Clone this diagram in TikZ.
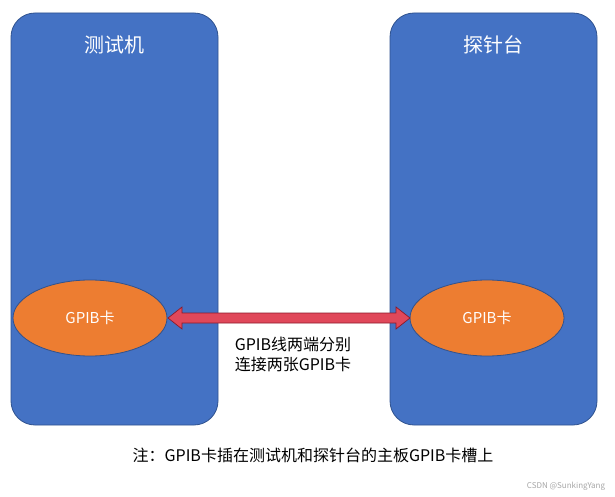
\documentclass[tikz,border=0pt]{standalone}
\usepackage{fontspec}
\setmainfont{Noto Sans CJK SC}
\usetikzlibrary{shapes.geometric}
\definecolor{boxblue}{HTML}{4472C4}
\definecolor{boxline}{HTML}{2F528F}
\definecolor{cardor}{HTML}{ED7D31}
\definecolor{arrred}{HTML}{E0485A}
\definecolor{arrline}{HTML}{8B1A2A}
\tikzset{
 machine/.style={draw=boxline,fill=boxblue,rounded corners=24pt,line width=0.8pt},
 title/.style={text=white,font=\fontsize{20}{24}\selectfont},
 card/.style={ellipse,draw=boxline,fill=cardor,line width=0.8pt,minimum width=154pt,minimum height=76pt,text=white,font=\fontsize{15}{18}\selectfont},
 lbl/.style={font=\fontsize{16}{20}\selectfont,align=center}
}
\begin{document}
\begin{tikzpicture}[x=1pt,y=-1pt]
\useasboundingbox (0,0) rectangle (615,497);
\fill[white] (0,0) rectangle (615,497);
\draw[machine] (11,13) rectangle (218,425);
\draw[machine] (390,13) rectangle (597,425);
\node[title] (t1) at (114,45) {测试机};
\node[title] (t2) at (493,45) {探针台};
\node[card] (c1) at (90,318) {GPIB卡};
\node[card] (c2) at (487,318) {GPIB卡};
\draw[fill=arrred,draw=arrline,line width=0.7pt]
 (168,318) -- (182,307) -- (182,313) -- (396,313) -- (396,307) -- (410,318)
 -- (396,329) -- (396,323) -- (182,323) -- (182,329) -- cycle;
\node[lbl] (a) at (293,354) {GPIB线两端分别\\连接两张GPIB卡};
\node[lbl] (n) at (313,455) {注：GPIB卡插在测试机和探针台的主板GPIB卡槽上};
\node[text=gray!70,font=\fontsize{8}{10}\selectfont] (w) at (566,486) {CSDN @SunkingYang};
\end{tikzpicture}
\end{document}
